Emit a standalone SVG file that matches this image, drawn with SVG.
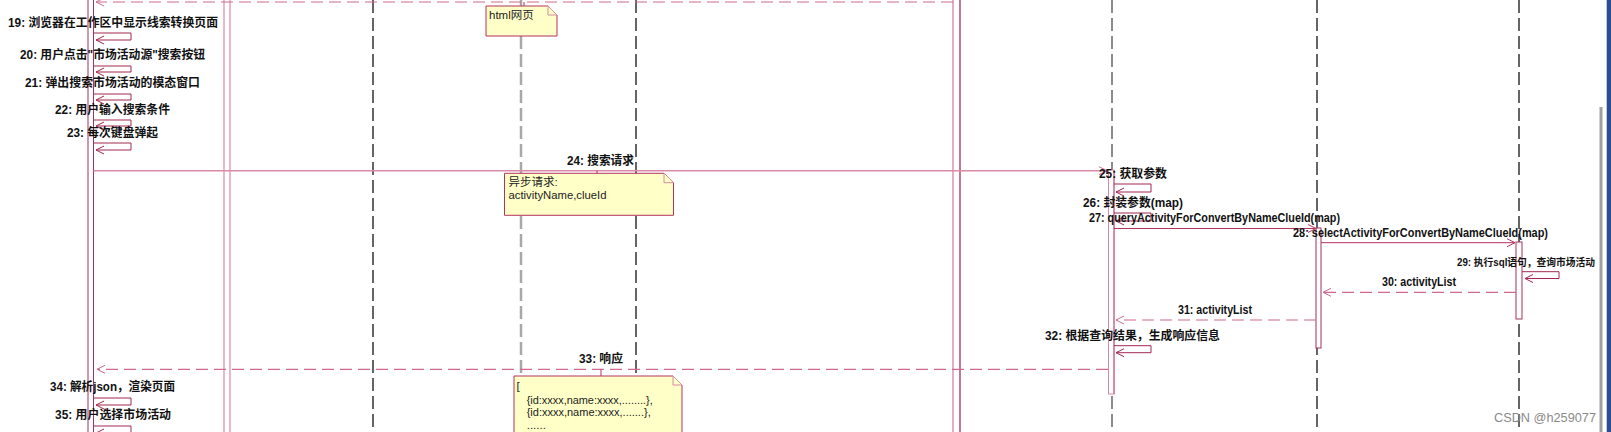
<svg xmlns="http://www.w3.org/2000/svg" width="1611" height="432" viewBox="0 0 1611 432">
<defs>
<marker id="arrS" markerUnits="userSpaceOnUse" markerWidth="12" markerHeight="10" refX="8" refY="4" orient="auto" overflow="visible">
<path d="M0,0 L8,4 L0,8" fill="none" stroke="#a3284f" stroke-width="1"/>
</marker>
<marker id="arrL" markerUnits="userSpaceOnUse" markerWidth="12" markerHeight="10" refX="8" refY="4" orient="auto" overflow="visible">
<path d="M0,0 L8,4 L0,8" fill="none" stroke="#cf6a8e" stroke-width="1"/>
</marker>
<marker id="arrM" markerUnits="userSpaceOnUse" markerWidth="12" markerHeight="10" refX="8" refY="4" orient="auto" overflow="visible">
<path d="M0,0 L8,4 L0,8" fill="none" stroke="#b3335f" stroke-width="1"/>
</marker>
</defs>
<style>
.lbl{font-family:"Liberation Sans","Noto Sans CJK SC",sans-serif;font-weight:bold;font-size:12px;fill:#111;text-anchor:middle}
.nt{font-family:"Liberation Sans","Noto Sans CJK SC",sans-serif;font-size:11.5px;fill:#222}
.life{fill:none;stroke:#333;stroke-width:1.5;stroke-dasharray:13 5}
.lifeg{fill:none;stroke:#a8a8a8;stroke-width:2.5;stroke-dasharray:13 5}
.lifem{fill:none;stroke:#666;stroke-width:1.5;stroke-dasharray:13 5}
.self{fill:none;stroke:#a3284f;stroke-width:1;marker-end:url(#arrS)}
.ret{fill:none;stroke:#cf6a8e;stroke-width:1.2;stroke-dasharray:12 6;marker-end:url(#arrL)}
.msgL{fill:none;stroke:#d98aa6;stroke-width:1.5;marker-end:url(#arrL)}
.msg{fill:none;stroke:#b3335f;stroke-width:1;marker-end:url(#arrM)}
.act{fill:#fff;stroke:#a3325d;stroke-width:1}
.note{fill:#ffffc8;stroke:#b3335f;stroke-width:1}
.fold{fill:#ffffc8;stroke:#d98aa6;stroke-width:1}
.nc{stroke:#b3335f;stroke-width:1}
</style>
<rect x="0" y="0" width="1611" height="432" fill="#fff"/>

<g id="lifelines">
<line class="life" x1="373" y1="0" x2="373" y2="432"/>
<line class="lifeg" x1="521" y1="0" x2="521" y2="432"/>
<line class="life" x1="636" y1="0" x2="636" y2="432"/>
<line class="lifem" x1="1112" y1="0" x2="1112" y2="432"/>
<line class="life" x1="1317" y1="0" x2="1317" y2="432"/>
<line class="life" x1="1519" y1="0" x2="1519" y2="432"/>
</g>

<g id="bars">
<rect class="act" x="88" y="-5" width="5.5" height="445"/>
<line x1="224" y1="0" x2="224" y2="432" stroke="#d98aa6" stroke-width="1.2"/>
<line x1="230" y1="0" x2="230" y2="432" stroke="#d98aa6" stroke-width="1.2"/>
<line x1="953" y1="0" x2="953" y2="432" stroke="#d0769a" stroke-width="1.2"/>
<line x1="960" y1="0" x2="960" y2="432" stroke="#8f2050" stroke-width="1.2"/>
</g>

<g id="act-server">
<rect x="1108.5" y="170" width="5.5" height="224" fill="#fff" stroke="#d98aa6" stroke-width="1"/>
<line x1="1114" y1="170" x2="1114" y2="394" stroke="#c0507a" stroke-width="1"/>
</g>
<g id="act-service">
<rect class="act" x="1316" y="228" width="5" height="120"/>
</g>
<g id="act-mapper">
<rect class="act" x="1516" y="242" width="6" height="77"/>
</g>

<g id="connectors">
<path class="ret" d="M953,2 H96"/>
<path class="self" d="M93.5,33 H131 V40 H96"/>
<path class="self" d="M93.5,66 H131 V72 H96"/>
<path class="self" d="M93.5,94 H131 V100 H96"/>
<path class="self" d="M93.5,120 H131 V126 H96"/>
<path class="self" d="M93.5,143 H131 V150 H96"/>
<path class="msgL" d="M93.5,170.7 H1107"/>
<path class="self" d="M1114,184 H1151 V192 H1116"/>
<path class="self" d="M1114,213 H1151 V221 H1116"/>
<path class="msg" d="M1114,228.5 H1316"/>
<path class="msg" d="M1321,242.7 H1515"/>
<path class="self" d="M1522,271.7 H1559 V278.5 H1525"/>
<path class="ret" d="M1516,292.3 H1323"/>
<path class="ret" d="M1316,320 H1116"/>
<path class="self" d="M1114,345.7 H1151 V352.7 H1116"/>
<path class="ret" d="M1108,369.3 H97"/>
<path class="self" d="M93.5,398 H131 V405 H96"/>
<path class="self" d="M93.5,426 H131 V433 H96"/>
<line class="nc" x1="524" y1="2" x2="524" y2="6"/>
<line class="nc" x1="597" y1="170.7" x2="597" y2="173.3"/>
<line class="nc" x1="601" y1="369.3" x2="601" y2="376"/>
</g>

<g id="labels">
<text class="lbl" x="113" y="26.5" textLength="210" lengthAdjust="spacingAndGlyphs">19: 浏览器在工作区中显示线索转换页面</text>
<text class="lbl" x="112.5" y="59" textLength="185" lengthAdjust="spacingAndGlyphs">20: 用户点击"市场活动源"搜索按钮</text>
<text class="lbl" x="112.5" y="87" textLength="175" lengthAdjust="spacingAndGlyphs">21: 弹出搜索市场活动的模态窗口</text>
<text class="lbl" x="112.5" y="114" textLength="115" lengthAdjust="spacingAndGlyphs">22: 用户输入搜索条件</text>
<text class="lbl" x="112.5" y="137" textLength="91" lengthAdjust="spacingAndGlyphs">23: 每次键盘弹起</text>
<text class="lbl" x="600.5" y="164.5" textLength="67" lengthAdjust="spacingAndGlyphs">24: 搜索请求</text>
<text class="lbl" x="1133" y="177.5" textLength="68" lengthAdjust="spacingAndGlyphs">25: 获取参数</text>
<text class="lbl" x="1133" y="207" textLength="100" lengthAdjust="spacingAndGlyphs">26: 封装参数(map)</text>
<text class="lbl" x="1214.5" y="221.5" textLength="251" lengthAdjust="spacingAndGlyphs">27: queryActivityForConvertByNameClueId(map)</text>
<text class="lbl" x="1420.5" y="236.5" textLength="255" lengthAdjust="spacingAndGlyphs">28: selectActivityForConvertByNameClueId(map)</text>
<text class="lbl" x="1457" y="266" style="text-anchor:start;font-size:10px" textLength="138" lengthAdjust="spacingAndGlyphs">29: 执行sql语句，查询市场活动</text>
<text class="lbl" x="1419" y="285.5" textLength="74" lengthAdjust="spacingAndGlyphs">30: activityList</text>
<text class="lbl" x="1215" y="313.5" textLength="74" lengthAdjust="spacingAndGlyphs">31: activityList</text>
<text class="lbl" x="1132.5" y="339.5" textLength="175" lengthAdjust="spacingAndGlyphs">32: 根据查询结果，生成响应信息</text>
<text class="lbl" x="601" y="362.5" textLength="44" lengthAdjust="spacingAndGlyphs">33: 响应</text>
<text class="lbl" x="112.5" y="391" textLength="125" lengthAdjust="spacingAndGlyphs">34: 解析json，渲染页面</text>
<text class="lbl" x="113" y="419" textLength="116" lengthAdjust="spacingAndGlyphs">35: 用户选择市场活动</text>
</g>

<g id="note-html">
<path class="note" d="M486,6 H548 L557,15 V36 H486 Z"/>
<path class="fold" d="M548,6 V15 H557"/>
<text class="nt" x="489" y="19">html网页</text>
</g>

<g id="note-request">
<path class="note" d="M504.5,173.3 H664 L673.5,182.7 V215.3 H504.5 Z"/>
<path class="fold" d="M664,173.3 V182.7 H673.5"/>
<text class="nt" x="508.5" y="186">异步请求:</text>
<text class="nt" x="508.5" y="199.3" textLength="98" lengthAdjust="spacingAndGlyphs">activityName,clueId</text>
</g>

<g id="note-response">
<path class="note" d="M514,376 H673 L682,385 V440 H514 Z"/>
<path class="fold" d="M673,376 V385 H682"/>
<text class="nt" x="516.5" y="389.5">[</text>
<text class="nt" x="526.7" y="403.5" textLength="126" lengthAdjust="spacingAndGlyphs">{id:xxxx,name:xxxx,........},</text>
<text class="nt" x="526.7" y="416" textLength="124" lengthAdjust="spacingAndGlyphs">{id:xxxx,name:xxxx,.......},</text>
<text class="nt" x="526.7" y="429">......</text>
</g>

<g id="frame-right">
<rect x="1599.5" y="107" width="3" height="325" fill="#a0a0a0"/>
<rect x="1606.7" y="0" width="4.3" height="432" fill="#2b4f8e"/>
</g>

<text x="1494" y="422" font-family="'Liberation Sans',sans-serif" font-size="13" fill="#8a8a8a" textLength="102" lengthAdjust="spacingAndGlyphs">CSDN @h259077</text>
</svg>
